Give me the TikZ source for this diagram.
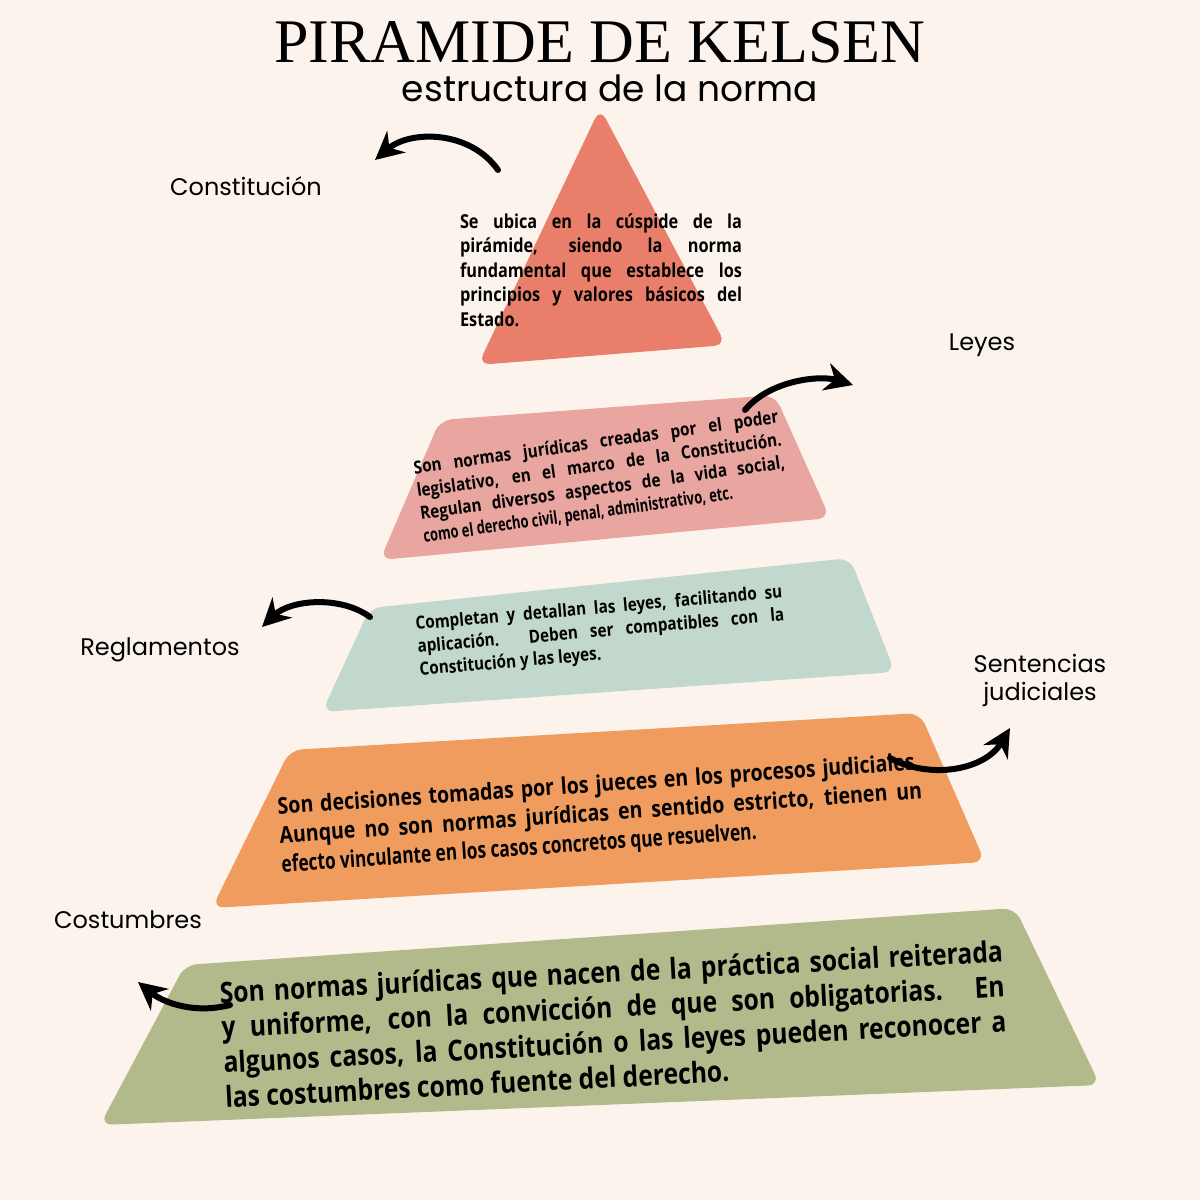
\documentclass[tikz,border=0pt]{standalone}
\usepackage{fontspec}
\setmainfont{Liberation Serif}
\newfontfamily\bodyf[FakeStretch=0.85]{Open Sans}
\newfontfamily\handf{Poppins}
\usetikzlibrary{arrows.meta}
\definecolor{bg}{HTML}{FCF4EC}
\definecolor{cTop}{HTML}{E97F6A}
\definecolor{cPink}{HTML}{E9A5A0}
\definecolor{cMint}{HTML}{C2D8CC}
\definecolor{cOrange}{HTML}{EF9C5E}
\definecolor{cOlive}{HTML}{B2BA8C}
\tikzset{
  layer/.style={rounded corners=6pt},
  body/.style={align=justify, inner sep=0pt, execute at begin node={\hyphenpenalty=10000\emergencystretch=3em}},
  lbl/.style={font=\handf\fontsize{12}{14}\selectfont, inner sep=0pt},
  curvy/.style={line width=3pt, line cap=round, -{Stealth[length=14pt,width=14pt]}}
}
\begin{document}
\begin{tikzpicture}[x=0.5pt,y=-0.5pt]
\fill[bg] (0,0) rectangle (1200,1200);
\useasboundingbox (0,0) rectangle (1200,1200);
\node[font=\fontsize{31}{33}\selectfont] (title) at (600,42) {PIRAMIDE DE KELSEN};
\node[font=\handf\fontsize{18}{20}\selectfont] (sub) at (610,88) {estructura de la norma};
\fill[cTop,layer] (600,108) -- (726,345) -- (478,365) -- cycle;
\fill[cPink,layer] (380,560) -- (440,420) -- (775,395) -- (830,518) -- cycle;
\fill[cMint,layer] (322,712) -- (370,608) -- (850,558) -- (895,672) -- cycle;
\fill[cOrange,layer] (212,908) -- (290,750) -- (920,713) -- (985,862) -- cycle;
\fill[cOlive,layer] (100,1125) -- (185,965) -- (1015,908) -- (1100,1085) -- cycle;
\node[body,text width=141pt,font=\bodyf\bfseries\fontsize{9.6}{12.3}\selectfont] (t1) at (601,270) {Se ubica en la cúspide de la\linebreak pirámide, siendo la norma\linebreak fundamental que establece los\linebreak principios y valores básicos del\linebreak Estado.};
\node[body,rotate=8,text width=184pt,font=\bodyf\bfseries\fontsize{9}{11.5}\selectfont] (t2) at (601,478) {Son normas jurídicas creadas por el poder\linebreak legislativo, en el marco de la Constitución.\linebreak Regulan diversos aspectos de la vida social,\linebreak \mbox{\addfontfeature{FakeStretch=0.72}como el derecho civil, penal, administrativo, etc.}};
\node[body,rotate=5,text width=184pt,font=\bodyf\bfseries\fontsize{9}{11.5}\selectfont] (t3) at (601,632) {Completan y detallan las leyes, facilitando su\linebreak aplicación. Deben ser compatibles con la\linebreak Constitución y las leyes.};
\node[body,rotate=4,text width=322pt,font=\bodyf\bfseries\fontsize{11.5}{14.5}\selectfont] (t4) at (601,815) {Son decisiones tomadas por los jueces en los procesos judiciales.\linebreak Aunque no son normas jurídicas en sentido estricto, tienen un\linebreak \mbox{\addfontfeature{FakeStretch=0.75}efecto vinculante en los casos concretos que resuelven.}};
\node[body,rotate=3,text width=392pt,font=\bodyf\bfseries\fontsize{14.5}{17.5}\selectfont] (t5) at (614,1024) {Son normas jurídicas que nacen de la práctica social reiterada\linebreak y uniforme, con la convicción de que son obligatorias. En\linebreak algunos casos, la Constitución o las leyes pueden reconocer a\linebreak las costumbres como fuente del derecho.};
\node[lbl] (l1) at (246,186) {Constitución};
\node[lbl] (l2) at (982,345) {Leyes};
\node[lbl] (l3) at (160,650) {Reglamentos};
\node[lbl,align=center] (l4) at (1040,680) {Sentencias\\judiciales};
\node[lbl] (l5) at (128,920) {Costumbres};
\coordinate (a1s) at (498,170); \coordinate (a1e) at (375,160);
\coordinate (a2s) at (745,410); \coordinate (a2e) at (853,385);
\coordinate (a3s) at (370,617); \coordinate (a3e) at (262,627);
\coordinate (a4s) at (890,758); \coordinate (a4e) at (1010,728);
\coordinate (a5s) at (230,1005); \coordinate (a5e) at (138,982);
\draw[curvy] (a1s) .. controls (470,130) and (410,130) .. (a1e);
\draw[curvy] (a2s) .. controls (770,380) and (820,375) .. (a2e);
\draw[curvy] (a3s) .. controls (340,595) and (290,600) .. (a3e);
\draw[curvy] (a4s) .. controls (930,780) and (985,770) .. (a4e);
\draw[curvy] (a5s) .. controls (190,1015) and (160,1000) .. (a5e);
\end{tikzpicture}
\end{document}
